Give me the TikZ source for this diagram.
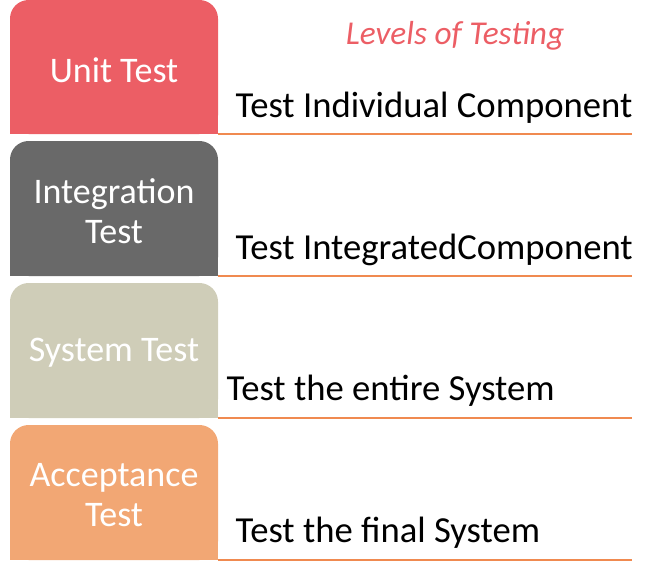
\documentclass[tikz,border=0pt]{standalone}
\usepackage{fontspec}
\setmainfont{Carlito}
\begin{document}
\begin{tikzpicture}[x=0.75pt,y=-0.75pt,
  lvl/.style={text=white,font=\fontsize{27}{30}\selectfont,align=center},
  desc/.style={anchor=base west,font=\fontsize{27.5}{30}\selectfont}]
\useasboundingbox (0,0) rectangle (650,578);
\definecolor{cA}{HTML}{EC5E65}\definecolor{cB}{HTML}{696969}
\definecolor{cC}{HTML}{CFCDB8}\definecolor{cD}{HTML}{F2A774}
\definecolor{ln}{HTML}{F08A50}
\foreach \c/\t/\b [count=\i] in {cA/0/134, cB/141/276, cC/283/418, cD/425/560}{
  \fill[\c,rounded corners=14pt] (10,\b) rectangle (218,\t);
  \fill[\c] (10,\b) rectangle (218,\t+40);
  \draw[ln,line width=0.9pt] (218,\b) coordinate (l\i) -- (632,\b) coordinate (r\i);
}
\node[lvl] (u) at (114,70) {Unit Test};
\node[lvl] (i) at (114,211) {Integration\\Test};
\node[lvl] (s) at (114,353) {System Test};
\node[lvl] (a) at (114,495) {Acceptance\\Test};
\node[desc] (d1) at (231,117) {Test Individual Component};
\node[desc] (d2) at (231,259) {Test IntegratedComponent};
\node[desc] (d3) at (222,400) {Test the entire System};
\node[desc] (d4) at (231,542) {Test the final System};
\node[text=cA,font=\itshape\fontsize{25}{28}\selectfont] (t) at (455,36) {Levels of Testing};
\end{tikzpicture}
\end{document}
